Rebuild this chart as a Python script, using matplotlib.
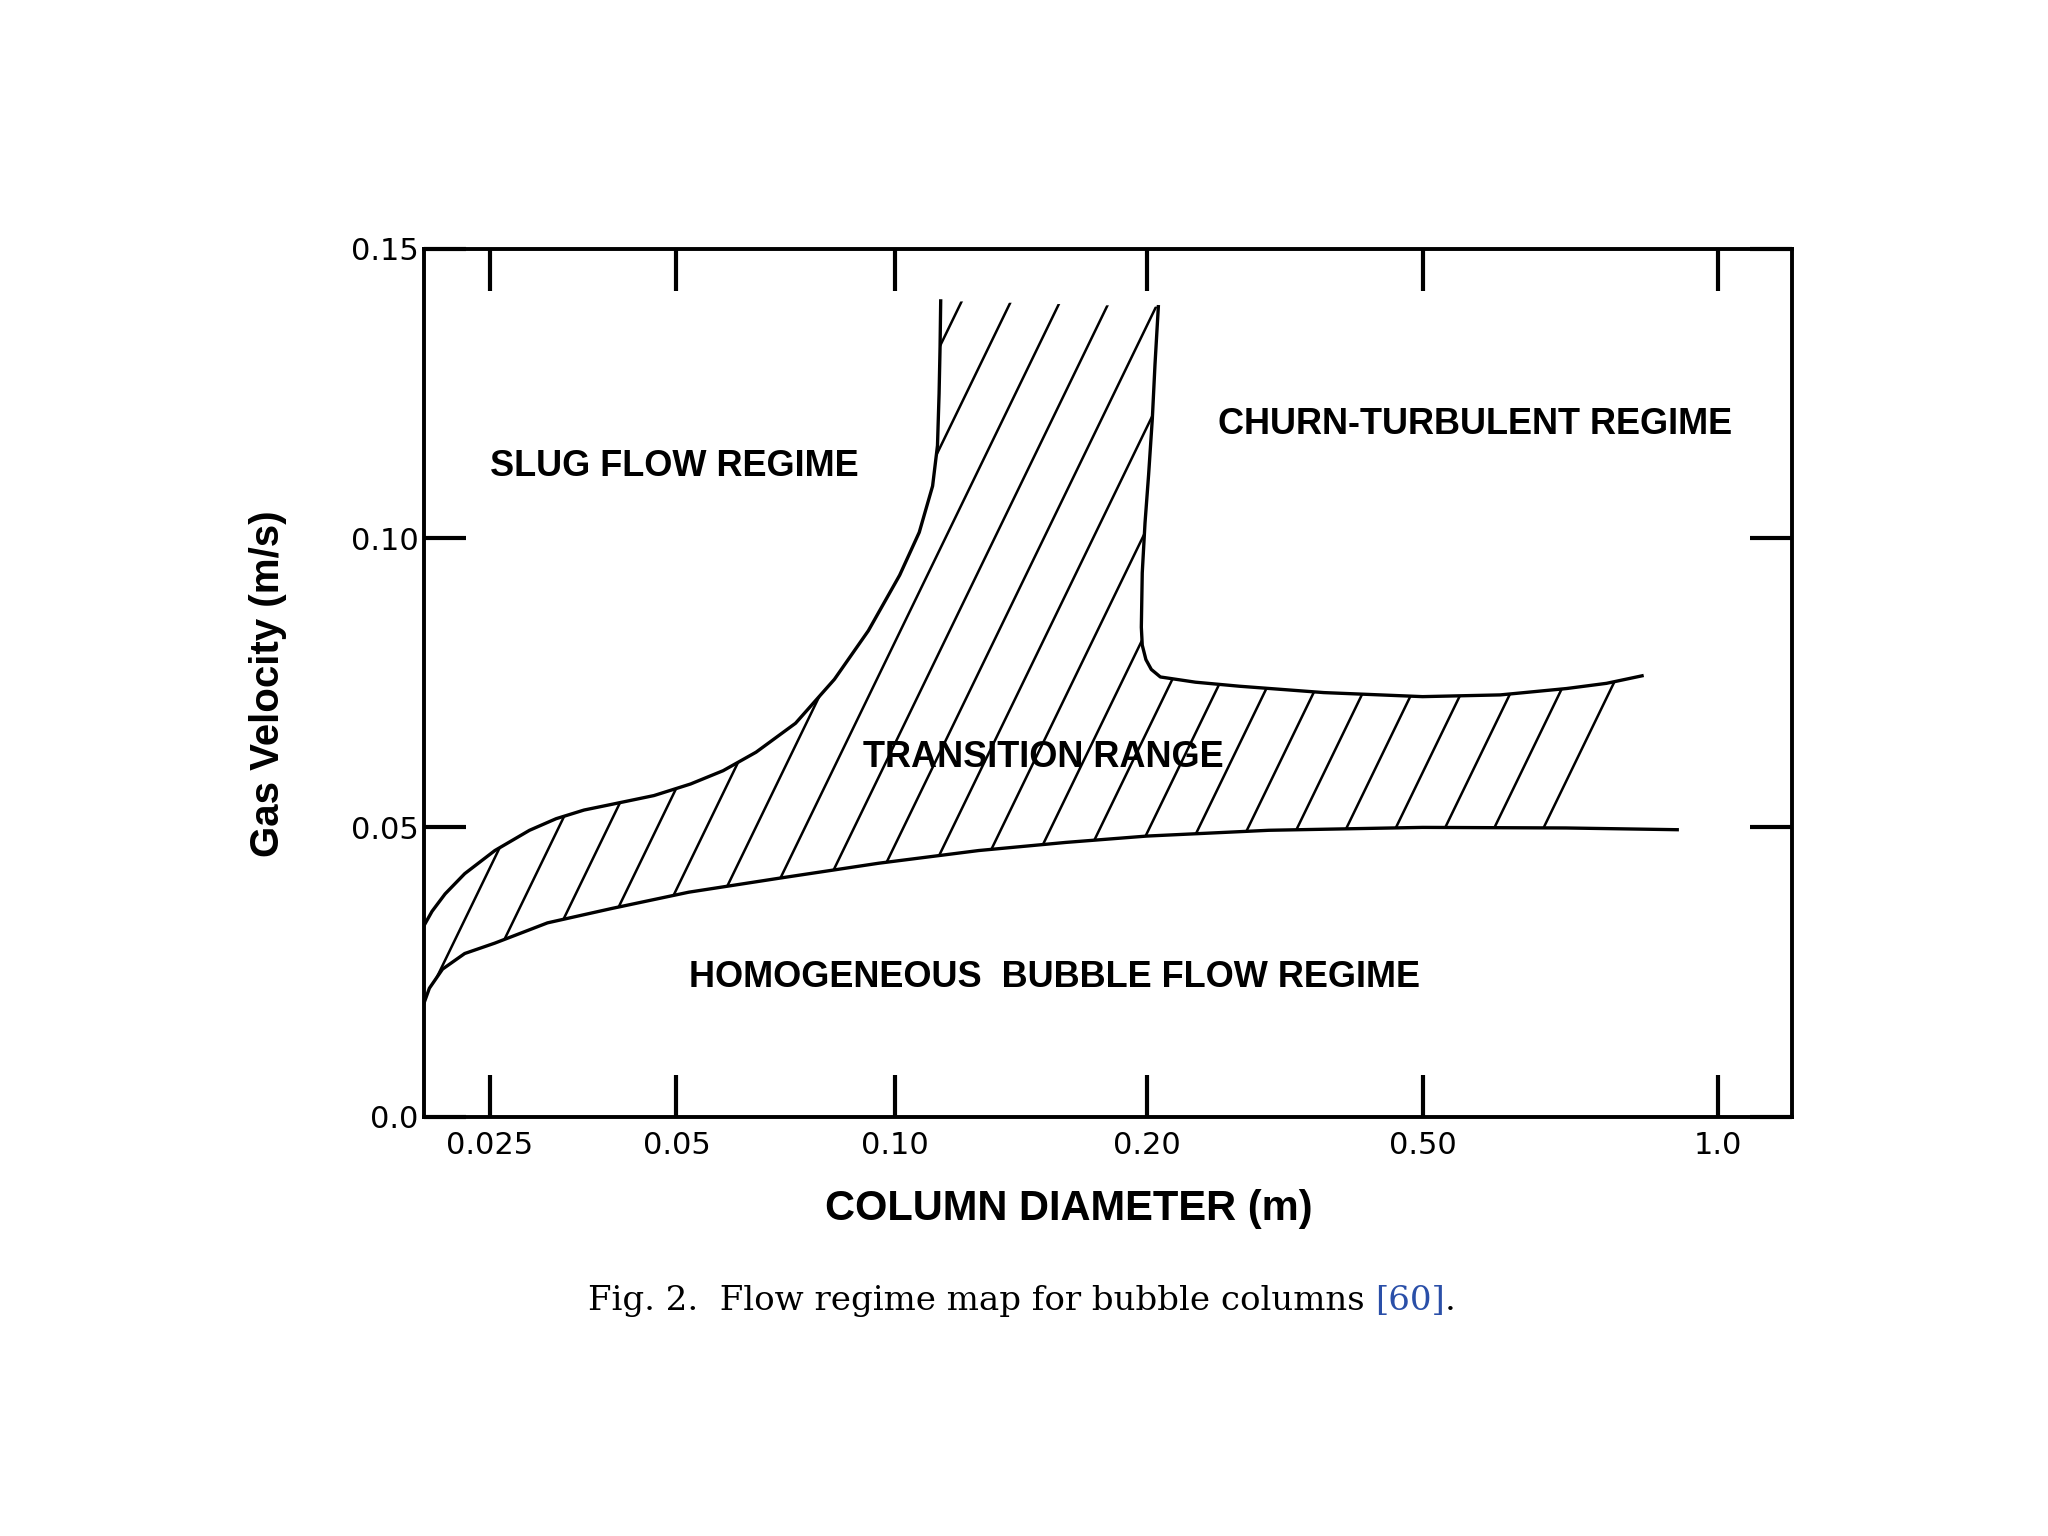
import matplotlib

matplotlib.use("Agg")
import matplotlib.pyplot as plt
import numpy as np
from matplotlib.patches import Polygon

# tick diameters (m) and gas velocity ticks (m/s)
x_ticks = [0.025, 0.05, 0.10, 0.20, 0.50, 1.0]
x_tick_labels = ["0.025", "0.05", "0.10", "0.20", "0.50", "1.0"]
y_ticks = [0.0, 0.05, 0.10, 0.15]
y_tick_labels = ["0.0", "0.05", "0.10", "0.15"]

# the original axis is not a true log axis; piecewise spacing
scale_d = [0.01, 0.025, 0.05, 0.10, 0.20, 0.50, 1.0, 2.0]
scale_px = [187, 376, 519, 686, 879, 1090, 1316, 1542]

# upper-left boundary of transition range (slug side)
upper_d = [0.0196, 0.0202, 0.0212, 0.0228, 0.0255, 0.029, 0.032, 0.0355, 0.0394, 0.046,
           0.0523, 0.058, 0.0644, 0.073, 0.0826, 0.092, 0.1014, 0.107, 0.111, 0.1125,
           0.113, 0.1133, 0.1135]
upper_v = [0.033, 0.0355, 0.0385, 0.042, 0.046, 0.0495, 0.0515, 0.053, 0.054, 0.0555,
           0.0575, 0.0598, 0.063, 0.068, 0.0756, 0.084, 0.0936, 0.101, 0.109, 0.116,
           0.125, 0.133, 0.141]
# lower boundary (homogeneous side)
lower_d = [0.0196, 0.0200, 0.0210, 0.0228, 0.0255, 0.031, 0.0394, 0.052, 0.070, 0.095,
           0.126, 0.16, 0.20, 0.30, 0.50, 0.70, 0.909]
lower_v = [0.0196, 0.0222, 0.0255, 0.0282, 0.030, 0.0335, 0.036, 0.0388, 0.0413, 0.0438,
           0.046, 0.0474, 0.0485, 0.0495, 0.050, 0.0499, 0.0496]
# right boundary (churn-turbulent side)
right_d = [0.2078, 0.2055, 0.2037, 0.2012, 0.199, 0.1975, 0.197, 0.1975, 0.1995, 0.203,
           0.2092, 0.235, 0.272, 0.36, 0.50, 0.60, 0.701, 0.77, 0.837]
right_v = [0.140, 0.130, 0.1207, 0.111, 0.1026, 0.094, 0.0846, 0.0815, 0.079, 0.0773,
           0.076, 0.0751, 0.0744, 0.0733, 0.0726, 0.0729, 0.074, 0.0749, 0.0762]
# end of hatched area on the right
hatch_end_d = [0.80, 0.68]
hatch_end_v = [0.0755, 0.0498]

lg = np.log10(scale_d)


def fwd(d):
    return np.interp(np.log10(np.clip(d, 1e-6, None)), lg, scale_px)


def inv(p):
    return 10 ** np.interp(p, scale_px, lg)


fig = plt.figure(figsize=(20.48, 15.36), dpi=100)
ax = fig.add_axes([0.207, 0.273, 0.668, 0.565])
ax.set_xscale("function", functions=(fwd, inv))
ax.set_xlim(0.0196, 1.19)
ax.set_ylim(0.0, 0.15)

# hatched transition region: slanted lines clipped to the region outline
poly_d = upper_d + right_d + hatch_end_d + [d for d in lower_d[::-1] if d < 0.68]
poly_v = upper_v + right_v + hatch_end_v + [v for d, v in zip(lower_d[::-1], lower_v[::-1]) if d < 0.68]
region = Polygon(np.column_stack([poly_d, poly_v]), closed=True, facecolor="none",
                 edgecolor="none", transform=ax.transData)
ax.add_patch(region)
slope = 3.25
for c in np.arange(-0.4, 1.1, 0.036):
    ln, = ax.plot([c, c + 1 / slope], [0, 1], transform=ax.transAxes, color="black", lw=1.8)
    ln.set_clip_path(region)

for xs, ys in [(upper_d, upper_v), (lower_d, lower_v), (right_d, right_v)]:
    ax.plot(xs, ys, color="black", lw=2.4, solid_joinstyle="round")

ax.set_xticks(x_ticks)
ax.set_xticklabels(x_tick_labels)
ax.set_yticks(y_ticks)
ax.set_yticklabels(y_tick_labels)
ax.minorticks_off()
ax.tick_params(direction="in", length=30, width=3, labelsize=22, top=True, right=True, pad=10)
ax.tick_params(axis="y", pad=4)
for s in ax.spines.values():
    s.set_linewidth(2.8)

bold = dict(family="Liberation Sans", weight="bold", fontsize=26, ha="center", va="center")
ax.text(0.0497, 0.1123, "SLUG FLOW REGIME", **bold)
ax.text(0.565, 0.1196, "CHURN-TURBULENT REGIME", **bold)
ax.text(0.1506, 0.062, "TRANSITION RANGE", **bold)
ax.text(0.155, 0.0241, "HOMOGENEOUS  BUBBLE FLOW REGIME", **bold)

fig.text(0.522, 0.213, "COLUMN DIAMETER (m)", family="Liberation Sans", weight="bold",
         fontsize=30, ha="center", va="center")
fig.text(0.131, 0.555, "Gas Velocity (m/s)", family="Liberation Sans", weight="bold",
         fontsize=29, ha="center", va="center", rotation=90)

# caption, chained piece by piece
cap = dict(family="DejaVu Serif", fontsize=24.5, va="center")
renderer = fig.canvas.get_renderer()
x = 0.287
for txt, col in [("Fig. 2.  Flow regime map for bubble columns ", "black"),
                 ("[60]", "#2a4fa8"), (".", "black")]:
    t = fig.text(x, 0.153, txt, ha="left", color=col, **cap)
    bb = t.get_window_extent(renderer)
    x = fig.transFigure.inverted().transform((bb.x1, 0))[0]

fig.savefig("out.png", dpi=100, facecolor="white")
